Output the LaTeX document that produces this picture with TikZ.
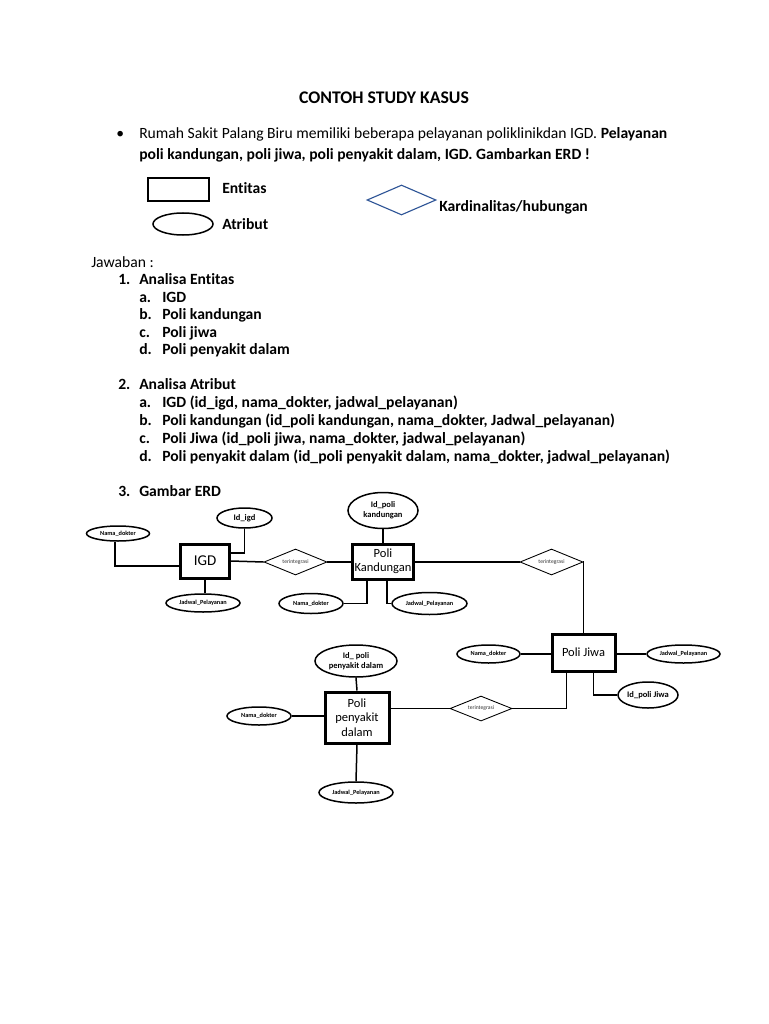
\documentclass[tikz,border=0pt]{standalone}
\usepackage{fontspec}
\setmainfont{Carlito}[Ligatures=NoCommon]
\usetikzlibrary{shapes.geometric,calc}
\def\pxu{0.8pt}
\definecolor{legblue}{HTML}{2F5597}
\begin{document}
\begin{tikzpicture}[x=0.8pt,y=-0.8pt,
  sz/.style 2 args={minimum width=#1*\pxu, minimum height=#2*\pxu},
  txt/.style={anchor=base west, inner sep=0, font=\fontsize{12.5}{14}\selectfont},
  txtb/.style={anchor=base west, inner sep=0, font=\bfseries\fontsize{12.5}{14}\selectfont},
  ent/.style={draw, line width=2.4pt, rectangle, inner sep=0, align=center, font=\fontsize{10}{11.5}\selectfont},
  att/.style={draw, line width=1.2pt, ellipse, inner sep=-6pt, align=center, font=\bfseries\fontsize{6.8}{7.8}\selectfont},
  attsm/.style={att, font=\bfseries\fontsize{5}{6}\selectfont},
  rel/.style={draw, line width=0.7pt, diamond, inner sep=-6pt, font=\fontsize{4.5}{5}\selectfont, text=black!80},
  con/.style={line width=1.2pt}
]
\fill[white] (0,0) rectangle (768,1024);
\useasboundingbox (0,0) rectangle (768,1024);

% header
\node[anchor=base, inner sep=0, font=\bfseries\fontsize{14.2}{16}\selectfont] (title) at (384,104) {CONTOH STUDY KASUS};
\node[txt] (bul) at (116,139) {•};
\node[txt] (l1) at (139,139) {Rumah Sakit Palang Biru memiliki beberapa pelayanan poliklinikdan IGD. \textbf{Pelayanan}};
\node[txtb] (l2) at (139,160) {poli kandungan, poli jiwa, poli penyakit dalam, IGD. Gambarkan ERD !};

% legend
\node[draw, line width=1.2pt, sz={61}{23}] (lrect) at (178.5,189.5) {};
\node[txtb] (lent) at (222,194) {Entitas};
\node[draw, ellipse, line width=1.2pt, sz={60}{22}] (lell) at (183,224) {};
\node[txtb] (latr) at (222,229) {Atribut};
\node[draw=legblue, line width=0.9pt, diamond, sz={69}{30}] (ldia) at (401.5,200) {};
\node[txtb] (lkar) at (439,212) {Kardinalitas/hubungan};

% answers
\node[txt] (jaw) at (91,267) {Jawaban :};
\node[txtb] (n1) at (118,284) {1.};
\node[txtb] (h1) at (139,284) {Analisa Entitas};
\node[txtb] (e1l) at (139,302) {a.};
\node[txtb] (e1) at (162,302) {IGD};
\node[txtb] (e2l) at (139,319) {b.};
\node[txtb] (e2) at (162,319) {Poli kandungan};
\node[txtb] (e3l) at (139,337) {c.};
\node[txtb] (e3) at (162,337) {Poli jiwa};
\node[txtb] (e4l) at (139,354) {d.};
\node[txtb] (e4) at (162,354) {Poli penyakit dalam};

\node[txtb] (n2) at (118,389) {2.};
\node[txtb] (h2) at (139,389) {Analisa Atribut};
\node[txtb] (a1l) at (139,407) {a.};
\node[txtb] (a1) at (162,407) {IGD (id\_igd, nama\_dokter, jadwal\_pelayanan)};
\node[txtb] (a2l) at (139,425) {b.};
\node[txtb] (a2) at (162,425) {Poli kandungan (id\_poli kandungan, nama\_dokter, Jadwal\_pelayanan)};
\node[txtb] (a3l) at (139,443) {c.};
\node[txtb] (a3) at (162,443) {Poli Jiwa (id\_poli jiwa, nama\_dokter, jadwal\_pelayanan)};
\node[txtb] (a4l) at (139,461) {d.};
\node[txtb] (a4) at (162,461) {Poli penyakit dalam (id\_poli penyakit dalam, nama\_dokter, jadwal\_pelayanan)};

\node[txtb] (n3) at (118,496) {3.};
\node[txtb] (h3) at (139,496) {Gambar ERD};

% ERD entities
\node[ent, sz={49}{34}, font=\fontsize{12}{13}\selectfont] (igd) at (205,561) {IGD};
\node[ent, sz={61}{35}] (pk) at (383,561.5) {Poli\\Kandungan};
\node[ent, sz={63}{37}] (pj) at (583.5,652.5) {Poli Jiwa};
\node[ent, sz={64}{51}] (pd) at (357,717.5) {Poli\\penyakit\\dalam};

% relationships
\node[rel, sz={63}{26}] (t1) at (295.5,562) {terintegrasi};
\node[rel, sz={63}{26}] (t2) at (551.5,562) {terintegrasi};
\node[rel, sz={62}{25}] (t3) at (481,708.5) {terintegrasi};

% attributes
\node[attsm, sz={63}{15}] (nd1) at (118,533.5) {Nama\_dokter};
\node[att, sz={55}{20}] (idigd) at (244.5,518) {Id\_igd};
\node[attsm, sz={74}{18}] (jd1) at (203,603) {Jadwal\_Pelayanan};

\node[att, sz={70}{36}] (idpk) at (383,510.5) {Id\_poli\\kandungan};
\node[attsm, sz={64}{20}] (nd2) at (311,603.5) {Nama\_dokter};
\node[attsm, sz={75}{22}] (jd2) at (429.5,603.5) {Jadwal\_Pelayanan};

\node[attsm, sz={63}{18}] (nd3) at (488.5,654) {Nama\_dokter};
\node[attsm, sz={73}{18}] (jd3) at (683.5,654) {Jadwal\_Pelayanan};
\node[att, sz={60}{26}] (idpj) at (648,695) {Id\_poli Jiwa};

\node[att, sz={82}{32}] (idpd) at (356,661) {Id\_ poli\\penyakit dalam};
\node[attsm, sz={64}{18}] (nd4) at (259,716) {Nama\_dokter};
\node[attsm, sz={74}{21}] (jd4) at (356,792.5) {Jadwal\_Pelayanan};

% connectors
\draw[con] ($(nd1.south)+(-3,0)$) |- ($(igd.west)+(0,5)$);
\draw[con] (idigd.south) |- ($(igd.east)+(0,-8)$);
\draw[con] (jd1.north -| igd.south) -- (igd.south);
\draw[con] (igd.east) -- (t1.west);
\draw[con] (t1.east) -- (pk.west |- t1.east);

\draw[con] (idpk.south) -- (pk.north);
\draw[con] ($(pk.south)+(-16,0)$) |- (nd2.east);
\draw[con] ($(pk.south)+(4,0)$) |- (jd2.west);
\draw[con] (pk.east |- t2.west) -- (t2.west);
\draw[con] (t2.east) -| (pj.north);

\draw[con] (nd3.east) -- (pj.west |- nd3.east);
\draw[con] (pj.east |- jd3.west) -- (jd3.west);
\draw[con] ($(pj.south)+(10,0)$) |- (idpj.west);
\draw[con] ($(pj.south)+(-17,0)$) |- (t3.east);

\draw[con] (t3.west) -- (t3.west -| pd.east);
\draw[con] (idpd.south) -- (pd.north);
\draw[con] (nd4.east) -- (nd4.east -| pd.west);
\draw[con] (pd.south) -- (jd4.north);
\end{tikzpicture}
\end{document}
